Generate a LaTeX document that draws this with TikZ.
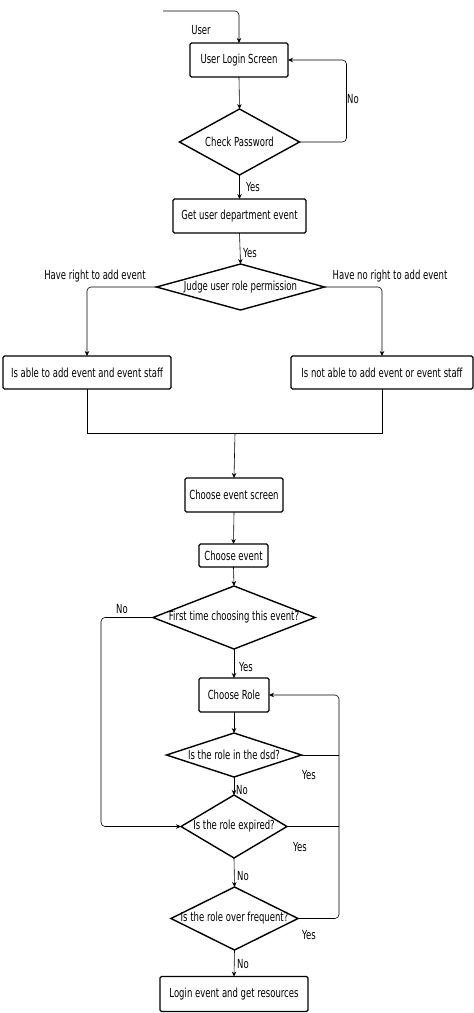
\documentclass[tikz,border=0pt]{standalone}
\usepackage{fontspec}
\setmainfont[FakeStretch=0.68]{DejaVu Sans}
\usetikzlibrary{shapes.geometric,arrows.meta}
\newcommand{\dtext}[1]{\makebox[0pt]{#1}}
\begin{document}
\begin{tikzpicture}[x=1pt,y=-1pt,
  font=\fontsize{12.5}{14}\selectfont,
  procbox/.style={draw, rectangle, rounded corners=1.5pt, line width=1.3pt, inner sep=0pt, outer sep=0pt},
  decbox/.style={draw, diamond, line width=1.4pt, inner sep=0pt, outer sep=0pt},
  conn/.style={line width=0.6pt, rounded corners=4pt},
  arr/.style={conn, -{Stealth[length=5pt,width=4.5pt]}},
  lbl/.style={inner sep=0pt}]
\useasboundingbox (0,0) rectangle (474,1013);
% process boxes
\node[procbox, minimum width=98pt, minimum height=34pt] (login) at (239,60) {User Login Screen};
\node[procbox, minimum width=133pt, minimum height=34pt] (dept) at (239.5,216) {Get user department event};
\node[procbox, minimum width=168pt, minimum height=33pt] (able) at (87,372.5) {Is able to add event and event staff};
\node[procbox, minimum width=182pt, minimum height=33pt] (notable) at (382,372.5) {Is not able to add event or event staff};
\node[procbox, minimum width=98pt, minimum height=34pt] (ces) at (234,495) {Choose event screen};
\node[procbox, minimum width=69pt, minimum height=23pt] (ce) at (233.5,555.5) {Choose event};
\node[procbox, minimum width=70pt, minimum height=34pt] (role) at (234,695) {Choose Role};
\node[procbox, minimum width=148pt, minimum height=35pt] (final) at (234,994) {Login event and get resources};
% decisions
\node[decbox, minimum width=120pt, minimum height=66pt] (check) at (239.5,142) {\dtext{Check Password}};
\node[decbox, minimum width=168pt, minimum height=46pt] (judge) at (240.5,287) {\dtext{Judge user role permission}};
\node[decbox, minimum width=162pt, minimum height=63pt] (first) at (234,617.5) {\dtext{First time choosing this event?}};
\node[decbox, minimum width=135pt, minimum height=44pt] (dsd) at (234,755) {\dtext{Is the role in the dsd?}};
\node[decbox, minimum width=106pt, minimum height=63pt] (expired) at (234,826.5) {\dtext{Is the role expired?}};
\node[decbox, minimum width=127pt, minimum height=63pt] (freq) at (234.5,918.5) {\dtext{Is the role over frequent?}};
% helper coordinates
\coordinate (start) at (163,11);
\coordinate (merge) at (235,433);
\coordinate (loopx) at (339,695);
% connectors
\draw[arr] (start) -| (login.north);
\draw[arr] (login.south) -- (check.north);
\draw[arr] (check.east) -- ++(47,0) |- (login.east);
\draw[arr] (check.south) -- (dept.north);
\draw[arr] (dept.south) -- (judge.north);
\draw[arr] (judge.west) -| (able.north);
\draw[arr] (judge.east) -| (notable.north);
\draw[conn, sharp corners] (able.south) -- (able.south |- merge) -| (notable.south);
\draw[arr] (merge) -- (ces.north);
\draw[arr] (ces.south) -- (ce.north);
\draw[arr] (ce.south) -- (first.north);
\draw[arr] (first.west) -- ++(-52,0) |- (expired.west);
\draw[arr] (first.south) -- (role.north);
\draw[arr] (role.south) -- (dsd.north);
\draw[arr] (dsd.south) -- (expired.north);
\draw[arr] (expired.south) -- (freq.north);
\draw[arr] (freq.south) -- (final.north);
\draw[arr] (freq.east) -- (freq.east -| loopx) -- (loopx) -- (role.east);
\draw[conn] (dsd.east) -- (dsd.east -| loopx);
\draw[conn] (expired.east) -- (expired.east -| loopx);
% labels
\node[lbl] (lUser) at (201,30) {User};
\node[lbl] (lNo1) at (353,99) {No};
\node[lbl] (lYes1) at (253,187) {Yes};
\node[lbl] (lYes2) at (250,253) {Yes};
\node[lbl] (lRight) at (95,276) {Have right to add event};
\node[lbl] (lNoRight) at (390,276) {Have no right to add event};
\node[lbl] (lNo2) at (122,609) {No};
\node[lbl] (lYes3) at (246,667) {Yes};
\node[lbl] (lYes4) at (309,775) {Yes};
\node[lbl] (lNo3) at (242,790) {No};
\node[lbl] (lYes5) at (300,847) {Yes};
\node[lbl] (lNo4) at (243,876) {No};
\node[lbl] (lYes6) at (309,935) {Yes};
\node[lbl] (lNo5) at (243,964) {No};
\end{tikzpicture}
\end{document}
